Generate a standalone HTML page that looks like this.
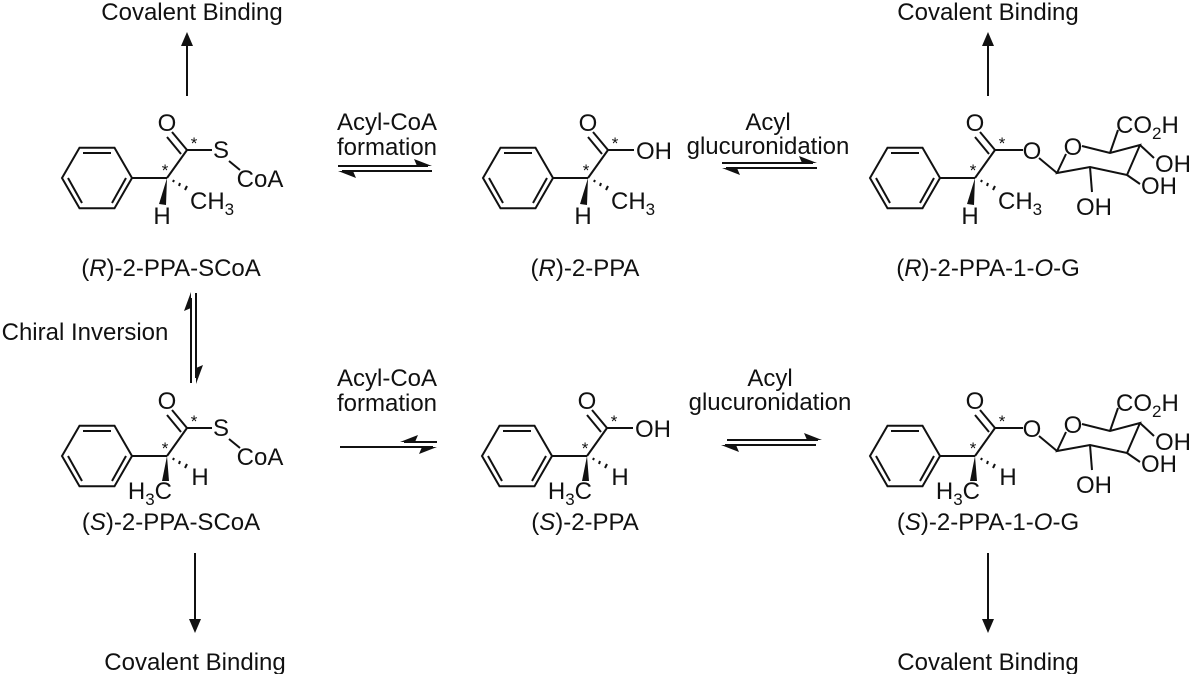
<!DOCTYPE html>
<html><head><meta charset="utf-8"><style>
html,body{margin:0;padding:0;background:#fff;}
svg{display:block;}
text{font-family:"Liberation Sans",Arial,sans-serif;fill:#111;}
</style></head><body>
<svg width="1200" height="674" viewBox="0 0 1200 674" xmlns="http://www.w3.org/2000/svg">
<defs>
<g id="core" stroke="#111" stroke-width="2" fill="none">
  <polygon points="-105,0 -87.5,-30.3 -52.5,-30.3 -35,0 -52.5,30.3 -87.5,30.3"/>
  <line x1="-84" y1="-25" x2="-56" y2="-25"/>
  <line x1="-99" y1="0" x2="-85" y2="25"/>
  <line x1="-41" y1="0" x2="-55" y2="25"/>
  <line x1="-35" y1="0" x2="0" y2="0"/>
  <line x1="0" y1="0" x2="20" y2="-28"/>
  <line x1="20" y1="-28" x2="5" y2="-46"/>
  <line x1="14" y1="-24" x2="0" y2="-41"/>
</g>
<g id="coreText">
  <text x="0" y="-47" font-size="24" text-anchor="middle">O</text>
  <text x="27" y="-29" font-size="17" text-anchor="middle">*</text>
  <text x="-2" y="-2" font-size="17" text-anchor="middle">*</text>
</g>
<g id="stereoR">
  <polygon points="0,0 -8,26 -1,27" fill="#111"/>
  <g stroke="#111" stroke-width="2">
    <line x1="6" y1="4" x2="7" y2="2"/>
    <line x1="12" y1="8" x2="13" y2="5"/>
    <line x1="18" y1="12" x2="20" y2="8"/>
  </g>
  <text x="-5" y="46" font-size="24" text-anchor="middle">H</text>
  <text x="23" y="31" font-size="24">CH<tspan font-size="17" dy="6">3</tspan></text>
</g>
<g id="stereoS">
  <polygon points="0,0 -5,25 2,25" fill="#111"/>
  <g stroke="#111" stroke-width="2">
    <line x1="6" y1="4" x2="7" y2="2"/>
    <line x1="12" y1="8" x2="13" y2="5"/>
    <line x1="18" y1="12" x2="20" y2="8"/>
  </g>
  <text x="33" y="29" font-size="24" text-anchor="middle">H</text>
  <text x="5" y="43" font-size="24" text-anchor="end">H<tspan font-size="17" dy="6">3</tspan><tspan dy="-6">C</tspan></text>
</g>
<g id="scoa">
  <line x1="20" y1="-28" x2="45" y2="-28" stroke="#111" stroke-width="2"/>
  <text x="54" y="-20" font-size="24" text-anchor="middle">S</text>
  <line x1="62" y1="-17" x2="73" y2="-8" stroke="#111" stroke-width="2"/>
  <text x="93" y="9" font-size="24" text-anchor="middle">CoA</text>
</g>
<g id="acid">
  <line x1="20" y1="-28" x2="46" y2="-28" stroke="#111" stroke-width="2"/>
  <text x="48" y="-19" font-size="24">OH</text>
</g>
<g id="gluc">
  <g stroke="#111" stroke-width="2" fill="none">
    <line x1="20" y1="-28" x2="48" y2="-28"/>
    <line x1="64" y1="-20" x2="82" y2="-5"/>
    <polyline points="91,-24 82,-5 115,-11 152,-3 165,-33 135,-25 107,-32"/>
    <line x1="135" y1="-25" x2="143" y2="-48"/>
    <line x1="165" y1="-33" x2="179" y2="-20"/>
    <line x1="152" y1="-3" x2="165" y2="6"/>
    <line x1="115" y1="-11" x2="117" y2="14"/>
  </g>
  <text x="57" y="-19" font-size="24" text-anchor="middle">O</text>
  <text x="98" y="-23" font-size="24" text-anchor="middle">O</text>
  <text x="141" y="-45" font-size="24">CO<tspan font-size="17" dy="6">2</tspan><tspan dy="-6">H</tspan></text>
  <text x="180" y="-6" font-size="24">OH</text>
  <text x="166" y="16" font-size="24">OH</text>
  <text x="119" y="37" font-size="24" text-anchor="middle">OH</text>
</g>
</defs>

<g transform="translate(167,178)"><use href="#core"/><use href="#coreText"/><use href="#stereoR"/><use href="#scoa"/></g>
<g transform="translate(588,178)"><use href="#core"/><use href="#coreText"/><use href="#stereoR"/><use href="#acid"/></g>
<g transform="translate(975,178)"><use href="#core"/><use href="#coreText"/><use href="#stereoR"/><use href="#gluc"/></g>
<g transform="translate(167,456)"><use href="#core"/><use href="#coreText"/><use href="#stereoS"/><use href="#scoa"/></g>
<g transform="translate(587,456)"><use href="#core"/><use href="#coreText"/><use href="#stereoS"/><use href="#acid"/></g>
<g transform="translate(975,456)"><use href="#core"/><use href="#coreText"/><use href="#stereoS"/><use href="#gluc"/></g>

<g font-size="24" text-anchor="middle">
<text x="171" y="276">(<tspan font-style="italic">R</tspan>)-2-PPA-SCoA</text>
<text x="585" y="276">(<tspan font-style="italic">R</tspan>)-2-PPA</text>
<text x="988" y="276">(<tspan font-style="italic">R</tspan>)-2-PPA-1-<tspan font-style="italic">O</tspan>-G</text>
<text x="171" y="530">(<tspan font-style="italic">S</tspan>)-2-PPA-SCoA</text>
<text x="585" y="530">(<tspan font-style="italic">S</tspan>)-2-PPA</text>
<text x="988" y="530">(<tspan font-style="italic">S</tspan>)-2-PPA-1-<tspan font-style="italic">O</tspan>-G</text>
<text x="192" y="20">Covalent Binding</text>
<text x="988" y="20">Covalent Binding</text>
<text x="195" y="670">Covalent Binding</text>
<text x="988" y="670">Covalent Binding</text>
<text x="387" y="130">Acyl-CoA</text>
<text x="387" y="155">formation</text>
<text x="768" y="130">Acyl</text>
<text x="768" y="154">glucuronidation</text>
<text x="387" y="386">Acyl-CoA</text>
<text x="387" y="411">formation</text>
<text x="770" y="386">Acyl</text>
<text x="770" y="410">glucuronidation</text>
<text x="85" y="340">Chiral Inversion</text>
</g>

<g stroke="#111" stroke-width="2" fill="none">
<line x1="187" y1="96" x2="187" y2="40"/>
<line x1="988" y1="96" x2="988" y2="40"/>
<line x1="195" y1="553" x2="195" y2="625"/>
<line x1="988" y1="553" x2="988" y2="625"/>
<line x1="338" y1="166" x2="428" y2="166"/>
<line x1="342" y1="171" x2="432" y2="171"/>
<line x1="722" y1="163" x2="813" y2="163"/>
<line x1="726" y1="168" x2="817" y2="168"/>
<line x1="340" y1="447" x2="433" y2="447"/>
<line x1="404" y1="442" x2="437" y2="442"/>
<line x1="727" y1="440" x2="818" y2="440"/>
<line x1="725" y1="445" x2="816" y2="445"/>
<line x1="191" y1="298" x2="191" y2="383"/>
<line x1="196" y1="293" x2="196" y2="378"/>
</g>
<g fill="#111">
<polygon points="187,32 181,46 193,46"/>
<polygon points="988,32 982,46 994,46"/>
<polygon points="195,633 189,619 201,619"/>
<polygon points="988,633 982,619 994,619"/>
<polygon points="432,166 414,159 417,166"/>
<polygon points="338,171 356,178 353,171"/>
<polygon points="817,163 799,156 802,163"/>
<polygon points="722,168 740,175 737,168"/>
<polygon points="437,447 419,454 422,447"/>
<polygon points="400,442 418,435 415,442"/>
<polygon points="822,440 804,433 807,440"/>
<polygon points="721,445 739,452 736,445"/>
<polygon points="191,292 184,311 191,308"/>
<polygon points="196,384 203,365 196,368"/>
</g>
</svg>
</body></html>
